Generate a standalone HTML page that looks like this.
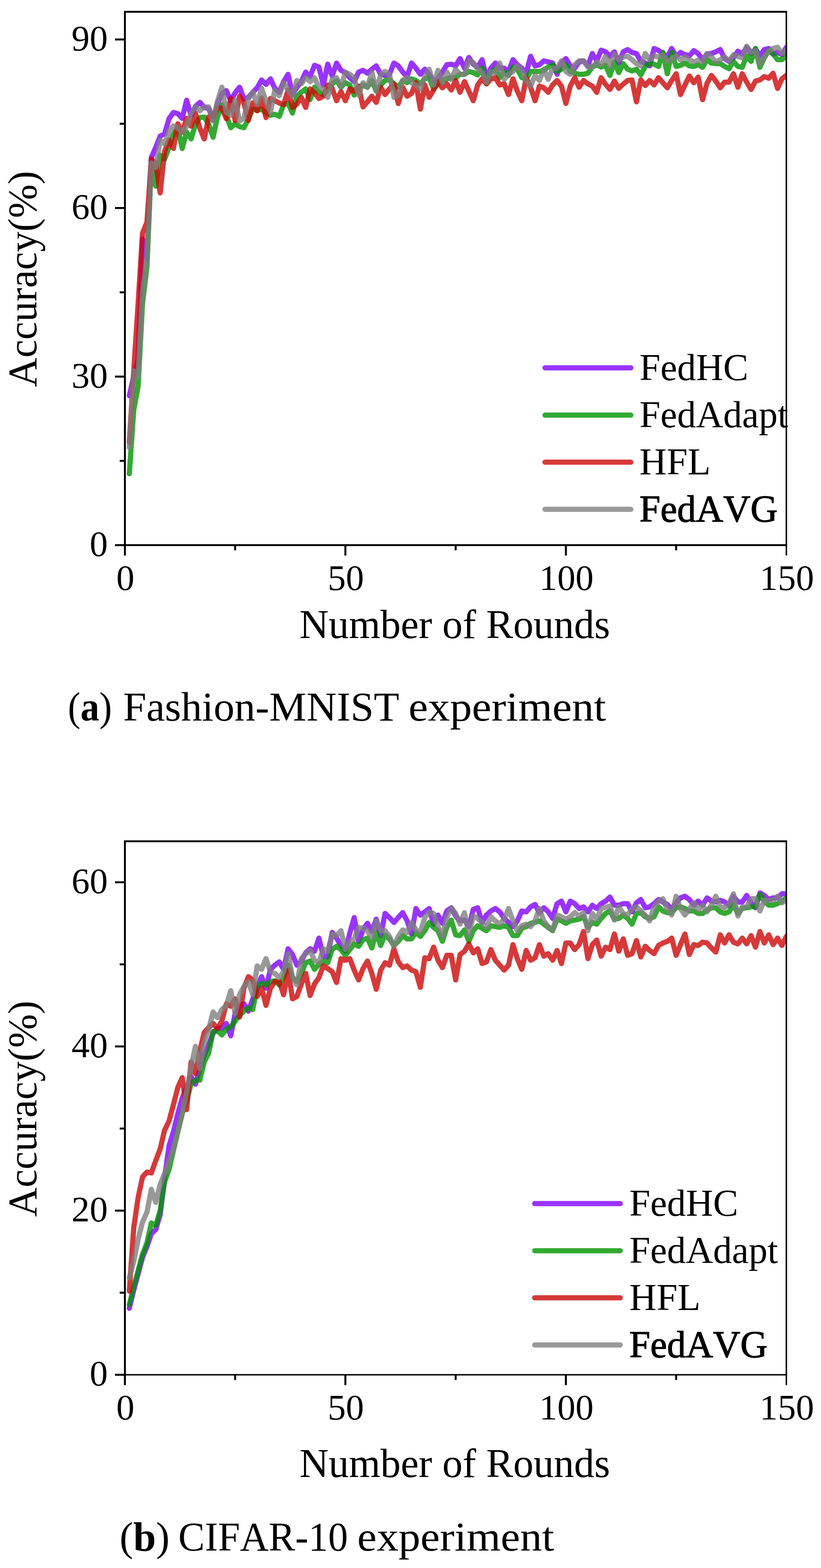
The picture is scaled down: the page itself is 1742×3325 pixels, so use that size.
<!DOCTYPE html>
<html><head><meta charset="utf-8"><title>Accuracy charts</title>
<style>
html,body{margin:0;padding:0;background:#fff;overflow:hidden;}
svg{display:block;}
text{font-family:"Liberation Serif","Times New Roman",serif;fill:#000;font-kerning:none;}
.tk{font-size:77px;}
.ttl{font-size:86px;}
.lg{font-size:80px;}
.fb{stroke:#000;stroke-width:1.3px;}
.b{font-weight:bold;}
.cap{font-size:86px;}
</style></head><body>
<svg width="1742" height="3325" viewBox="0 0 1742 3325">
<rect width="100%" height="100%" fill="#fff"/>
<clipPath id="cp0"><rect x="265.0" y="25.0" width="1403.5" height="1131.0"/></clipPath>
<g clip-path="url(#cp0)" fill="none" stroke-width="11" stroke-linejoin="round" stroke-linecap="round" stroke-opacity="0.8">
<polyline stroke="#8000ff" points="274.4,839.1 283.7,798.6 293.1,762.8 302.4,506.7 311.8,548.4 321.1,333.9 330.5,312.5 339.9,288.6 349.2,283.9 358.6,251.7 367.9,238.6 377.3,241.0 386.6,251.0 396.0,212.4 405.4,245.7 414.7,225.5 424.1,217.1 433.4,227.9 442.8,230.2 452.1,254.1 461.5,219.5 470.8,199.3 480.2,192.1 489.6,213.6 498.9,196.9 508.3,185.0 517.6,210.0 527.0,206.4 536.3,195.7 545.7,186.2 555.1,169.5 564.4,179.0 573.8,167.1 583.1,187.4 592.5,195.7 601.8,173.1 611.2,157.6 620.6,200.5 629.9,185.0 639.3,173.1 648.6,152.8 658.0,162.3 667.3,138.5 676.7,142.1 686.0,180.2 695.4,136.1 704.8,161.1 714.1,133.7 723.5,149.2 732.8,154.0 742.2,164.7 751.5,173.1 760.9,152.8 770.3,149.2 779.6,155.2 789.0,146.8 798.3,139.7 807.7,157.6 817.0,160.0 826.4,157.6 835.8,133.7 845.1,139.7 854.5,152.8 863.8,162.3 873.2,133.7 882.5,144.5 891.9,157.6 901.3,146.8 910.6,157.6 920.0,173.1 929.3,167.1 938.7,152.8 948.0,137.3 957.4,136.1 966.8,139.7 976.1,124.2 985.5,144.5 994.8,121.8 1004.2,136.1 1013.5,142.1 1022.9,126.6 1032.2,164.7 1041.6,144.5 1051.0,133.7 1060.3,144.5 1069.7,144.5 1079.0,151.6 1088.4,126.6 1097.7,137.3 1107.1,144.5 1116.5,155.2 1125.8,119.4 1135.2,139.7 1144.5,137.3 1153.9,129.0 1163.2,131.4 1172.6,133.7 1182.0,157.6 1191.3,133.7 1200.7,124.2 1210.0,139.7 1219.4,144.5 1228.7,131.4 1238.1,129.0 1247.5,139.7 1256.8,113.5 1266.2,129.0 1275.5,106.3 1284.9,109.9 1294.2,119.4 1303.6,109.9 1312.9,133.7 1322.3,109.9 1331.7,105.1 1341.0,111.1 1350.4,113.5 1359.7,130.2 1369.1,133.7 1378.4,139.7 1387.8,102.8 1397.2,106.9 1406.5,113.5 1415.9,120.6 1425.2,102.8 1434.6,119.4 1443.9,111.1 1453.3,115.9 1462.7,118.3 1472.0,107.5 1481.4,113.5 1490.7,126.6 1500.1,114.7 1509.4,113.5 1518.8,109.9 1528.2,105.1 1537.5,124.2 1546.9,130.2 1556.2,122.4 1565.6,108.7 1574.9,114.7 1584.3,100.4 1593.6,113.5 1603.0,104.0 1612.4,118.3 1621.7,105.1 1631.1,102.8 1640.4,114.7 1649.8,111.1 1659.1,115.9 1668.5,100.4"/>
<polyline stroke="#009500" points="274.4,1004.7 283.7,870.1 293.1,818.8 302.4,643.7 311.8,566.2 321.1,345.8 330.5,394.7 339.9,329.1 349.2,337.5 358.6,312.5 367.9,283.9 377.3,271.9 386.6,314.8 396.0,280.3 405.4,294.6 414.7,263.6 424.1,249.3 433.4,248.1 442.8,263.6 452.1,291.0 461.5,248.1 470.8,221.9 480.2,244.5 489.6,270.8 498.9,262.4 508.3,268.4 517.6,270.8 527.0,251.7 536.3,231.4 545.7,233.8 555.1,231.4 564.4,239.8 573.8,244.5 583.1,242.2 592.5,246.9 601.8,221.9 611.2,218.3 620.6,239.8 629.9,204.0 639.3,195.7 648.6,188.5 658.0,211.2 667.3,185.0 676.7,195.7 686.0,200.5 695.4,190.9 704.8,177.8 714.1,170.7 723.5,185.0 732.8,175.4 742.2,180.2 751.5,201.7 760.9,186.2 770.3,180.2 779.6,185.0 789.0,170.7 798.3,193.3 807.7,180.2 817.0,170.7 826.4,168.3 835.8,177.8 845.1,185.0 854.5,170.7 863.8,175.4 873.2,167.1 882.5,170.7 891.9,177.8 901.3,167.1 910.6,164.7 920.0,188.5 929.3,177.8 938.7,170.7 948.0,167.1 957.4,164.7 966.8,164.7 976.1,157.6 985.5,157.6 994.8,151.6 1004.2,154.0 1013.5,158.8 1022.9,144.5 1032.2,177.8 1041.6,151.6 1051.0,146.8 1060.3,164.7 1069.7,152.8 1079.0,160.0 1088.4,142.1 1097.7,146.8 1107.1,164.7 1116.5,167.1 1125.8,151.6 1135.2,151.6 1144.5,151.6 1153.9,149.2 1163.2,142.1 1172.6,137.3 1182.0,151.6 1191.3,146.8 1200.7,137.3 1210.0,151.6 1219.4,155.2 1228.7,157.6 1238.1,157.6 1247.5,155.2 1256.8,142.1 1266.2,137.3 1275.5,142.1 1284.9,138.5 1294.2,160.0 1303.6,131.4 1312.9,154.0 1322.3,134.9 1331.7,146.8 1341.0,150.4 1350.4,146.8 1359.7,158.8 1369.1,140.9 1378.4,133.7 1387.8,136.1 1397.2,140.9 1406.5,111.1 1415.9,156.4 1425.2,111.1 1434.6,140.9 1443.9,138.5 1453.3,133.7 1462.7,139.7 1472.0,140.9 1481.4,137.3 1490.7,142.7 1500.1,126.6 1509.4,133.7 1518.8,134.9 1528.2,134.9 1537.5,140.9 1546.9,145.7 1556.2,130.2 1565.6,140.9 1574.9,142.7 1584.3,118.3 1593.6,130.2 1603.0,102.8 1612.4,142.7 1621.7,122.4 1631.1,106.9 1640.4,114.7 1649.8,126.6 1659.1,126.6 1668.5,118.3"/>
<polyline stroke="#cc0808" points="274.4,938.0 283.7,786.7 293.1,643.7 302.4,494.7 311.8,470.9 321.1,337.5 330.5,345.8 339.9,409.0 349.2,320.8 358.6,297.0 367.9,314.8 377.3,262.4 386.6,280.3 396.0,251.0 405.4,267.2 414.7,241.0 424.1,271.9 433.4,294.6 442.8,248.1 452.1,245.7 461.5,229.1 470.8,229.1 480.2,251.7 489.6,208.8 498.9,255.3 508.3,204.0 517.6,218.3 527.0,255.3 536.3,218.3 545.7,235.0 555.1,207.6 564.4,249.3 573.8,208.8 583.1,213.6 592.5,218.3 601.8,221.9 611.2,190.9 620.6,227.9 629.9,220.7 639.3,206.4 648.6,227.9 658.0,188.5 667.3,196.9 676.7,208.8 686.0,204.0 695.4,180.2 704.8,187.4 714.1,213.6 723.5,194.5 732.8,213.6 742.2,188.5 751.5,193.3 760.9,182.6 770.3,226.7 779.6,216.0 789.0,204.0 798.3,217.1 807.7,185.0 817.0,200.5 826.4,188.5 835.8,177.8 845.1,219.5 854.5,185.0 863.8,204.0 873.2,198.1 882.5,175.4 891.9,231.4 901.3,180.2 910.6,206.4 920.0,190.9 929.3,173.1 938.7,186.2 948.0,177.8 957.4,190.9 966.8,170.7 976.1,195.7 985.5,173.1 994.8,193.3 1004.2,213.6 1013.5,180.2 1022.9,167.1 1032.2,177.8 1041.6,167.1 1051.0,164.7 1060.3,180.2 1069.7,177.8 1079.0,200.5 1088.4,167.1 1097.7,193.3 1107.1,213.6 1116.5,164.7 1125.8,185.0 1135.2,213.6 1144.5,182.6 1153.9,186.2 1163.2,195.7 1172.6,180.2 1182.0,170.7 1191.3,182.6 1200.7,219.5 1210.0,182.6 1219.4,164.7 1228.7,185.0 1238.1,170.7 1247.5,177.8 1256.8,182.6 1266.2,195.7 1275.5,164.7 1284.9,179.0 1294.2,189.7 1303.6,171.9 1312.9,187.4 1322.3,178.4 1331.7,170.7 1341.0,169.5 1350.4,216.0 1359.7,169.5 1369.1,181.4 1378.4,170.7 1387.8,180.2 1397.2,164.7 1406.5,175.4 1415.9,186.2 1425.2,170.7 1434.6,156.4 1443.9,200.5 1453.3,180.2 1462.7,161.1 1472.0,175.4 1481.4,163.5 1490.7,211.2 1500.1,176.6 1509.4,160.0 1518.8,171.9 1528.2,186.2 1537.5,174.2 1546.9,174.2 1556.2,156.4 1565.6,185.0 1574.9,156.4 1584.3,174.2 1593.6,189.7 1603.0,171.9 1612.4,169.5 1621.7,162.3 1631.1,165.9 1640.4,155.2 1649.8,187.4 1659.1,167.1 1668.5,160.0"/>
<polyline stroke="#808080" points="274.4,948.7 283.7,786.7 293.1,798.6 302.4,619.9 311.8,551.9 321.1,345.8 330.5,355.3 339.9,297.0 349.2,305.3 358.6,276.7 367.9,267.2 377.3,271.9 386.6,280.3 396.0,268.4 405.4,241.0 414.7,226.7 424.1,235.0 433.4,226.7 442.8,226.7 452.1,256.5 461.5,214.8 470.8,185.0 480.2,238.6 489.6,244.5 498.9,212.4 508.3,256.5 517.6,250.5 527.0,208.8 536.3,195.7 545.7,220.7 555.1,187.4 564.4,214.8 573.8,238.6 583.1,190.9 592.5,202.8 601.8,175.4 611.2,190.9 620.6,204.0 629.9,170.7 639.3,177.8 648.6,164.7 658.0,173.1 667.3,164.7 676.7,185.0 686.0,188.5 695.4,206.4 704.8,167.1 714.1,164.7 723.5,183.8 732.8,152.8 742.2,157.6 751.5,164.7 760.9,201.7 770.3,175.4 779.6,185.0 789.0,152.8 798.3,193.3 807.7,157.6 817.0,151.6 826.4,157.6 835.8,206.4 845.1,201.7 854.5,170.7 863.8,164.7 873.2,175.4 882.5,180.2 891.9,188.5 901.3,162.3 910.6,146.8 920.0,180.2 929.3,149.2 938.7,175.4 948.0,152.8 957.4,168.3 966.8,146.8 976.1,157.6 985.5,157.6 994.8,129.0 1004.2,132.5 1013.5,146.8 1022.9,152.8 1032.2,175.4 1041.6,151.6 1051.0,155.2 1060.3,133.7 1069.7,168.3 1079.0,157.6 1088.4,151.6 1097.7,139.7 1107.1,149.2 1116.5,170.7 1125.8,182.6 1135.2,160.0 1144.5,170.7 1153.9,146.8 1163.2,168.3 1172.6,144.5 1182.0,144.5 1191.3,129.0 1200.7,151.6 1210.0,157.6 1219.4,137.3 1228.7,129.0 1238.1,129.0 1247.5,142.1 1256.8,142.1 1266.2,131.4 1275.5,137.3 1284.9,119.4 1294.2,140.9 1303.6,114.7 1312.9,126.6 1322.3,120.6 1331.7,119.4 1341.0,126.6 1350.4,134.9 1359.7,139.7 1369.1,113.5 1378.4,126.6 1387.8,118.3 1397.2,120.6 1406.5,115.9 1415.9,130.2 1425.2,126.6 1434.6,118.3 1443.9,126.6 1453.3,120.6 1462.7,126.6 1472.0,131.4 1481.4,127.8 1490.7,131.4 1500.1,113.5 1509.4,120.6 1518.8,131.4 1528.2,126.6 1537.5,120.6 1546.9,129.0 1556.2,115.9 1565.6,119.4 1574.9,122.4 1584.3,98.0 1593.6,111.1 1603.0,106.9 1612.4,136.1 1621.7,120.6 1631.1,108.7 1640.4,102.8 1649.8,100.4 1659.1,113.5 1668.5,105.1"/>
</g>
<path d="M262.95 23.00H1670.10V1158.05H262.95Z M267.05 27.00V1153.95H1666.90V27.00Z" fill="#000" fill-rule="evenodd"/>
<line x1="244.0" y1="1156.0" x2="265.0" y2="1156.0" stroke="#000" stroke-width="4.2"/>
<text x="228.7" y="1179.0" text-anchor="end" class="tk">0</text>
<line x1="244.0" y1="798.6" x2="265.0" y2="798.6" stroke="#000" stroke-width="4.2"/>
<text x="228.7" y="821.6" text-anchor="end" class="tk">30</text>
<line x1="244.0" y1="441.1" x2="265.0" y2="441.1" stroke="#000" stroke-width="4.2"/>
<text x="228.7" y="464.1" text-anchor="end" class="tk">60</text>
<line x1="244.0" y1="83.7" x2="265.0" y2="83.7" stroke="#000" stroke-width="4.2"/>
<text x="228.7" y="106.7" text-anchor="end" class="tk">90</text>
<line x1="254.0" y1="977.3" x2="265.0" y2="977.3" stroke="#000" stroke-width="4.2"/>
<line x1="254.0" y1="619.9" x2="265.0" y2="619.9" stroke="#000" stroke-width="4.2"/>
<line x1="254.0" y1="262.4" x2="265.0" y2="262.4" stroke="#000" stroke-width="4.2"/>
<line x1="265.0" y1="1156.0" x2="265.0" y2="1178.0" stroke="#000" stroke-width="4.2"/>
<text x="266.0" y="1250.6" text-anchor="middle" class="tk">0</text>
<line x1="732.8" y1="1156.0" x2="732.8" y2="1178.0" stroke="#000" stroke-width="4.2"/>
<text x="733.8" y="1250.6" text-anchor="middle" class="tk">50</text>
<line x1="1200.7" y1="1156.0" x2="1200.7" y2="1178.0" stroke="#000" stroke-width="4.2"/>
<text x="1201.7" y="1250.6" text-anchor="middle" class="tk">100</text>
<line x1="1668.5" y1="1156.0" x2="1668.5" y2="1178.0" stroke="#000" stroke-width="3.2"/>
<text x="1669.5" y="1250.6" text-anchor="middle" class="tk">150</text>
<line x1="498.9" y1="1156.0" x2="498.9" y2="1167.0" stroke="#000" stroke-width="4.2"/>
<line x1="966.8" y1="1156.0" x2="966.8" y2="1167.0" stroke="#000" stroke-width="4.2"/>
<line x1="1434.6" y1="1156.0" x2="1434.6" y2="1167.0" stroke="#000" stroke-width="4.2"/>
<text x="964.8" y="1353.0" text-anchor="middle" class="ttl">Number of Rounds</text>
<text transform="translate(77.3,591.5) rotate(-90)" x="0" y="0" text-anchor="middle" class="ttl">Accuracy(%)</text>
<line x1="1156.4" y1="779.9" x2="1338.5" y2="779.9" stroke="#8000ff" stroke-opacity="0.8" stroke-width="11" stroke-linecap="round"/>
<text x="1356.7" y="805.8" class="lg">FedHC</text>
<line x1="1156.4" y1="880.3" x2="1338.5" y2="880.3" stroke="#009500" stroke-opacity="0.8" stroke-width="11" stroke-linecap="round"/>
<text x="1356.7" y="906.2" class="lg">FedAdapt</text>
<line x1="1156.4" y1="980.1" x2="1338.5" y2="980.1" stroke="#cc0808" stroke-opacity="0.8" stroke-width="11" stroke-linecap="round"/>
<text x="1356.7" y="1006.0" class="lg">HFL</text>
<line x1="1156.4" y1="1080.0" x2="1338.5" y2="1080.0" stroke="#808080" stroke-opacity="0.8" stroke-width="11" stroke-linecap="round"/>
<text x="1356.7" y="1105.9" class="lg fb">FedAVG</text>
<text transform="translate(144.1,1528.2) scale(0.9312,1)" class="cap">(<tspan font-weight="bold">a</tspan>)</text>
<text transform="translate(261.2,1528.2) scale(1.0306,1)" class="cap">Fashion-MNIST</text>
<text transform="translate(866.7,1528.2) scale(1.0841,1)" class="cap">experiment</text>
<clipPath id="cp1"><rect x="265.0" y="1784.0" width="1403.5" height="1131.3"/></clipPath>
<g clip-path="url(#cp1)" fill="none" stroke-width="11" stroke-linejoin="round" stroke-linecap="round" stroke-opacity="0.8">
<polyline stroke="#8000ff" points="274.4,2774.3 283.7,2736.0 293.1,2701.2 302.4,2666.4 311.8,2643.8 321.1,2615.9 330.5,2607.2 339.9,2575.9 349.2,2497.5 358.6,2429.7 367.9,2400.1 377.3,2361.8 386.6,2328.7 396.0,2306.1 405.4,2283.4 414.7,2299.1 424.1,2267.8 433.4,2236.4 442.8,2215.6 452.1,2191.2 461.5,2180.7 470.8,2180.7 480.2,2170.3 489.6,2196.4 498.9,2149.4 508.3,2135.5 517.6,2128.5 527.0,2144.2 536.3,2118.1 545.7,2092.0 555.1,2071.1 564.4,2095.4 573.8,2055.4 583.1,2046.7 592.5,2039.7 601.8,2055.4 611.2,2011.9 620.6,2024.1 629.9,2046.7 639.3,2038.0 648.6,2020.6 658.0,2011.9 667.3,2017.1 676.7,1989.3 686.0,2027.6 695.4,2029.3 704.8,1977.1 714.1,1989.3 723.5,2004.9 732.8,2017.1 742.2,1978.8 751.5,1945.7 760.9,1996.2 770.3,1971.9 779.6,1957.9 789.0,1975.3 798.3,1949.2 807.7,1984.0 817.0,1937.0 826.4,1945.7 835.8,1956.2 845.1,1945.7 854.5,1935.3 863.8,1952.7 873.2,1980.6 882.5,1926.6 891.9,1940.5 901.3,1933.6 910.6,1926.6 920.0,1959.7 929.3,1940.5 938.7,1957.9 948.0,1931.8 957.4,1924.9 966.8,1942.3 976.1,1952.7 985.5,1951.0 994.8,1964.9 1004.2,1928.3 1013.5,1924.9 1022.9,1956.2 1032.2,1940.5 1041.6,1931.8 1051.0,1926.6 1060.3,1933.6 1069.7,1947.5 1079.0,1956.2 1088.4,1964.9 1097.7,1952.7 1107.1,1931.8 1116.5,1933.6 1125.8,1923.1 1135.2,1917.9 1144.5,1935.3 1153.9,1924.9 1163.2,1933.6 1172.6,1947.5 1182.0,1916.2 1191.3,1910.9 1200.7,1933.6 1210.0,1910.9 1219.4,1916.2 1228.7,1926.6 1238.1,1923.1 1247.5,1933.6 1256.8,1919.6 1266.2,1926.6 1275.5,1916.2 1284.9,1910.9 1294.2,1902.2 1303.6,1919.6 1312.9,1919.6 1322.3,1916.2 1331.7,1916.2 1341.0,1933.6 1350.4,1914.4 1359.7,1907.5 1369.1,1924.9 1378.4,1923.1 1387.8,1916.2 1397.2,1907.5 1406.5,1912.7 1415.9,1917.9 1425.2,1928.3 1434.6,1914.4 1443.9,1904.0 1453.3,1900.5 1462.7,1907.5 1472.0,1919.6 1481.4,1910.9 1490.7,1919.6 1500.1,1904.0 1509.4,1910.9 1518.8,1912.7 1528.2,1909.2 1537.5,1912.7 1546.9,1919.6 1556.2,1900.5 1565.6,1912.7 1574.9,1912.7 1584.3,1898.8 1593.6,1914.4 1603.0,1924.9 1612.4,1893.5 1621.7,1898.8 1631.1,1907.5 1640.4,1904.0 1649.8,1904.0 1659.1,1895.3 1668.5,1895.3"/>
<polyline stroke="#009500" points="274.4,2766.3 283.7,2729.0 293.1,2694.2 302.4,2659.4 311.8,2635.6 321.1,2593.3 330.5,2598.5 339.9,2567.2 349.2,2506.2 358.6,2480.1 367.9,2440.1 377.3,2400.1 386.6,2361.8 396.0,2333.9 405.4,2299.1 414.7,2290.4 424.1,2290.4 433.4,2252.1 442.8,2233.0 452.1,2187.7 461.5,2186.0 470.8,2194.7 480.2,2182.5 489.6,2177.3 498.9,2165.1 508.3,2152.9 517.6,2144.2 527.0,2137.2 536.3,2140.7 545.7,2092.0 555.1,2085.0 564.4,2088.5 573.8,2081.5 583.1,2079.8 592.5,2088.5 601.8,2072.8 611.2,2046.7 620.6,2072.8 629.9,2081.5 639.3,2064.1 648.6,2041.5 658.0,2038.0 667.3,2055.4 676.7,2045.0 686.0,2038.0 695.4,2041.5 704.8,2013.6 714.1,2006.7 723.5,2013.6 732.8,2025.8 742.2,2013.6 751.5,2001.5 760.9,2006.7 770.3,1992.7 779.6,1989.3 789.0,2010.2 798.3,1977.1 807.7,2004.9 817.0,1982.3 826.4,1991.0 835.8,2004.9 845.1,1996.2 854.5,1984.0 863.8,1991.0 873.2,1991.0 882.5,1977.1 891.9,1985.8 901.3,1973.6 910.6,1956.2 920.0,1966.6 929.3,1973.6 938.7,1996.2 948.0,1966.6 957.4,1951.0 966.8,1982.3 976.1,1984.0 985.5,1971.9 994.8,1996.2 1004.2,1973.6 1013.5,1963.2 1022.9,1968.4 1032.2,1973.6 1041.6,1963.2 1051.0,1964.9 1060.3,1966.6 1069.7,1963.2 1079.0,1966.6 1088.4,1984.0 1097.7,1984.0 1107.1,1968.4 1116.5,1964.9 1125.8,1957.9 1135.2,1956.2 1144.5,1952.7 1153.9,1959.7 1163.2,1966.6 1172.6,1973.6 1182.0,1949.2 1191.3,1952.7 1200.7,1957.9 1210.0,1952.7 1219.4,1951.0 1228.7,1949.2 1238.1,1944.0 1247.5,1966.6 1256.8,1956.2 1266.2,1959.7 1275.5,1947.5 1284.9,1937.0 1294.2,1931.8 1303.6,1949.2 1312.9,1947.5 1322.3,1940.5 1331.7,1947.5 1341.0,1959.7 1350.4,1937.0 1359.7,1935.3 1369.1,1944.0 1378.4,1947.5 1387.8,1944.0 1397.2,1923.1 1406.5,1931.8 1415.9,1935.3 1425.2,1935.3 1434.6,1924.9 1443.9,1923.1 1453.3,1926.6 1462.7,1931.8 1472.0,1931.8 1481.4,1937.0 1490.7,1937.0 1500.1,1930.1 1509.4,1924.9 1518.8,1924.9 1528.2,1933.6 1537.5,1937.0 1546.9,1933.6 1556.2,1917.9 1565.6,1937.0 1574.9,1926.6 1584.3,1924.9 1593.6,1923.1 1603.0,1923.1 1612.4,1897.0 1621.7,1910.9 1631.1,1919.6 1640.4,1919.6 1649.8,1916.2 1659.1,1910.9 1668.5,1904.0"/>
<polyline stroke="#cc0808" points="274.4,2737.8 283.7,2603.7 293.1,2539.3 302.4,2495.8 311.8,2485.4 321.1,2487.1 330.5,2461.0 339.9,2436.6 349.2,2396.6 358.6,2377.4 367.9,2342.6 377.3,2306.1 386.6,2285.2 396.0,2353.1 405.4,2252.1 414.7,2276.5 424.1,2227.7 433.4,2189.4 442.8,2179.0 452.1,2170.3 461.5,2180.7 470.8,2165.1 480.2,2128.5 489.6,2133.7 498.9,2118.1 508.3,2156.4 517.6,2095.4 527.0,2071.1 536.3,2078.0 545.7,2112.9 555.1,2095.4 564.4,2132.0 573.8,2095.4 583.1,2081.5 592.5,2081.5 601.8,2109.4 611.2,2057.2 620.6,2118.1 629.9,2112.9 639.3,2086.7 648.6,2064.1 658.0,2111.1 667.3,2086.7 676.7,2072.8 686.0,2048.4 695.4,2053.7 704.8,2060.6 714.1,2083.3 723.5,2032.8 732.8,2036.3 742.2,2032.8 751.5,2057.2 760.9,2078.0 770.3,2053.7 779.6,2038.0 789.0,2064.1 798.3,2097.7 807.7,2057.2 817.0,2041.5 826.4,2046.7 835.8,2011.9 845.1,2039.7 854.5,2051.9 863.8,2048.4 873.2,2057.2 882.5,2060.6 891.9,2093.7 901.3,2031.0 910.6,2032.8 920.0,2008.4 929.3,2036.3 938.7,2051.9 948.0,2025.8 957.4,2025.8 966.8,2078.0 976.1,2024.1 985.5,2017.1 994.8,2001.5 1004.2,2020.6 1013.5,2011.9 1022.9,2043.2 1032.2,2039.7 1041.6,2013.6 1051.0,2036.3 1060.3,2046.7 1069.7,2057.2 1079.0,2046.7 1088.4,2003.2 1097.7,2032.8 1107.1,2055.4 1116.5,2015.4 1125.8,2036.3 1135.2,2031.0 1144.5,2003.2 1153.9,2027.6 1163.2,2022.3 1172.6,2036.3 1182.0,2015.4 1191.3,2043.2 1200.7,1999.7 1210.0,1999.7 1219.4,2013.6 1228.7,2003.2 1238.1,1975.3 1247.5,2032.8 1256.8,2003.2 1266.2,1993.4 1275.5,2027.6 1284.9,2008.4 1294.2,2013.6 1303.6,1980.6 1312.9,2017.1 1322.3,1991.0 1331.7,2025.8 1341.0,2022.3 1350.4,1994.5 1359.7,2029.3 1369.1,2006.7 1378.4,2015.4 1387.8,2022.3 1397.2,2004.9 1406.5,1999.7 1415.9,1996.2 1425.2,1989.3 1434.6,2025.8 1443.9,2003.2 1453.3,1980.6 1462.7,2024.1 1472.0,2003.2 1481.4,2004.9 1490.7,1998.0 1500.1,1999.7 1509.4,2010.2 1518.8,2018.9 1528.2,1982.3 1537.5,1999.7 1546.9,1982.3 1556.2,1998.0 1565.6,2001.5 1574.9,1989.3 1584.3,2001.5 1593.6,1984.0 1603.0,2008.4 1612.4,1975.3 1621.7,1999.7 1631.1,1982.3 1640.4,2003.2 1649.8,1989.3 1659.1,2004.9 1668.5,1985.8"/>
<polyline stroke="#808080" points="274.4,2709.9 283.7,2675.1 293.1,2628.1 302.4,2591.5 311.8,2570.6 321.1,2521.9 330.5,2549.8 339.9,2511.5 349.2,2488.8 358.6,2462.7 367.9,2436.6 377.3,2400.1 386.6,2361.8 396.0,2314.8 405.4,2262.6 414.7,2219.0 424.1,2266.0 433.4,2208.6 442.8,2182.5 452.1,2145.9 461.5,2158.1 470.8,2140.7 480.2,2132.0 489.6,2100.7 498.9,2149.4 508.3,2109.4 517.6,2092.0 527.0,2081.5 536.3,2109.4 545.7,2048.4 555.1,2055.4 564.4,2032.8 573.8,2060.6 583.1,2064.1 592.5,2072.8 601.8,2060.6 611.2,2022.3 620.6,2072.8 629.9,2088.5 639.3,2032.8 648.6,2022.3 658.0,2015.4 667.3,2036.3 676.7,2041.5 686.0,2011.9 695.4,2017.1 704.8,1980.6 714.1,1984.0 723.5,1973.6 732.8,2013.6 742.2,1996.2 751.5,1991.0 760.9,1966.6 770.3,1968.4 779.6,1973.6 789.0,1989.3 798.3,1952.7 807.7,1973.6 817.0,1973.6 826.4,1985.8 835.8,2006.7 845.1,1985.8 854.5,1971.9 863.8,1977.1 873.2,1956.2 882.5,1971.9 891.9,1977.1 901.3,1945.7 910.6,1933.6 920.0,1937.0 929.3,1964.9 938.7,1985.8 948.0,1945.7 957.4,1924.9 966.8,1937.0 976.1,1959.7 985.5,1935.3 994.8,1982.3 1004.2,1942.3 1013.5,1947.5 1022.9,1956.2 1032.2,1966.6 1041.6,1944.0 1051.0,1952.7 1060.3,1959.7 1069.7,1949.2 1079.0,1926.6 1088.4,1952.7 1097.7,1973.6 1107.1,1963.2 1116.5,1959.7 1125.8,1964.9 1135.2,1952.7 1144.5,1926.6 1153.9,1952.7 1163.2,1964.9 1172.6,1971.9 1182.0,1940.5 1191.3,1944.0 1200.7,1949.2 1210.0,1944.0 1219.4,1935.3 1228.7,1942.3 1238.1,1935.3 1247.5,1973.6 1256.8,1937.0 1266.2,1949.2 1275.5,1926.6 1284.9,1924.0 1294.2,1921.4 1303.6,1951.0 1312.9,1923.1 1322.3,1937.0 1331.7,1940.5 1341.0,1926.6 1350.4,1923.1 1359.7,1931.8 1369.1,1940.5 1378.4,1952.7 1387.8,1923.1 1397.2,1910.9 1406.5,1905.7 1415.9,1928.3 1425.2,1940.5 1434.6,1900.5 1443.9,1926.6 1453.3,1940.5 1462.7,1928.3 1472.0,1914.4 1481.4,1930.1 1490.7,1919.6 1500.1,1933.6 1509.4,1919.6 1518.8,1900.5 1528.2,1923.1 1537.5,1924.9 1546.9,1916.2 1556.2,1895.3 1565.6,1942.3 1574.9,1923.1 1584.3,1923.1 1593.6,1905.7 1603.0,1905.7 1612.4,1931.8 1621.7,1909.2 1631.1,1909.2 1640.4,1909.2 1649.8,1900.5 1659.1,1914.4 1668.5,1909.2"/>
</g>
<path d="M262.95 1782.00H1670.10V2916.85H262.95Z M267.05 1786.00V2913.75H1666.90V1786.00Z" fill="#000" fill-rule="evenodd"/>
<line x1="244.0" y1="2915.3" x2="265.0" y2="2915.3" stroke="#000" stroke-width="4.2"/>
<text x="228.7" y="2938.3" text-anchor="end" class="tk">0</text>
<line x1="244.0" y1="2567.2" x2="265.0" y2="2567.2" stroke="#000" stroke-width="4.2"/>
<text x="228.7" y="2590.2" text-anchor="end" class="tk">20</text>
<line x1="244.0" y1="2219.0" x2="265.0" y2="2219.0" stroke="#000" stroke-width="4.2"/>
<text x="228.7" y="2242.0" text-anchor="end" class="tk">40</text>
<line x1="244.0" y1="1870.9" x2="265.0" y2="1870.9" stroke="#000" stroke-width="4.2"/>
<text x="228.7" y="1893.9" text-anchor="end" class="tk">60</text>
<line x1="254.0" y1="2741.2" x2="265.0" y2="2741.2" stroke="#000" stroke-width="4.2"/>
<line x1="254.0" y1="2393.1" x2="265.0" y2="2393.1" stroke="#000" stroke-width="4.2"/>
<line x1="254.0" y1="2045.0" x2="265.0" y2="2045.0" stroke="#000" stroke-width="4.2"/>
<line x1="265.0" y1="2915.3" x2="265.0" y2="2937.3" stroke="#000" stroke-width="4.2"/>
<text x="266.0" y="3009.9" text-anchor="middle" class="tk">0</text>
<line x1="732.8" y1="2915.3" x2="732.8" y2="2937.3" stroke="#000" stroke-width="4.2"/>
<text x="733.8" y="3009.9" text-anchor="middle" class="tk">50</text>
<line x1="1200.7" y1="2915.3" x2="1200.7" y2="2937.3" stroke="#000" stroke-width="4.2"/>
<text x="1201.7" y="3009.9" text-anchor="middle" class="tk">100</text>
<line x1="1668.5" y1="2915.3" x2="1668.5" y2="2937.3" stroke="#000" stroke-width="3.2"/>
<text x="1669.5" y="3009.9" text-anchor="middle" class="tk">150</text>
<line x1="498.9" y1="2915.3" x2="498.9" y2="2926.3" stroke="#000" stroke-width="4.2"/>
<line x1="966.8" y1="2915.3" x2="966.8" y2="2926.3" stroke="#000" stroke-width="4.2"/>
<line x1="1434.6" y1="2915.3" x2="1434.6" y2="2926.3" stroke="#000" stroke-width="4.2"/>
<text x="964.8" y="3131.5" text-anchor="middle" class="ttl">Number of Rounds</text>
<text transform="translate(77.3,2351.0) rotate(-90)" x="0" y="0" text-anchor="middle" class="ttl">Accuracy(%)</text>
<line x1="1134.5" y1="2552.3" x2="1316.1" y2="2552.3" stroke="#8000ff" stroke-opacity="0.8" stroke-width="11" stroke-linecap="round"/>
<text x="1335.3" y="2578.2" class="lg">FedHC</text>
<line x1="1134.5" y1="2652.2" x2="1316.1" y2="2652.2" stroke="#009500" stroke-opacity="0.8" stroke-width="11" stroke-linecap="round"/>
<text x="1335.3" y="2678.1" class="lg">FedAdapt</text>
<line x1="1134.5" y1="2752.0" x2="1316.1" y2="2752.0" stroke="#cc0808" stroke-opacity="0.8" stroke-width="11" stroke-linecap="round"/>
<text x="1335.3" y="2777.9" class="lg">HFL</text>
<line x1="1134.5" y1="2851.9" x2="1316.1" y2="2851.9" stroke="#808080" stroke-opacity="0.8" stroke-width="11" stroke-linecap="round"/>
<text x="1335.3" y="2877.8" class="lg fb">FedAVG</text>
<text transform="translate(253.8,3287.8) scale(1.0082,1)" class="cap">(<tspan font-weight="bold">b</tspan>)</text>
<text transform="translate(378.3,3287.8) scale(0.9789,1)" class="cap">CIFAR-10</text>
<text transform="translate(757.9,3287.8) scale(1.0802,1)" class="cap">experiment</text>
</svg>
</body></html>
